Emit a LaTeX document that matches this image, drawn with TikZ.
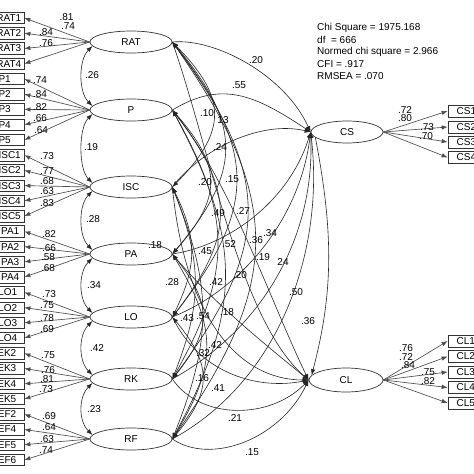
\documentclass[tikz,border=0pt]{standalone}
\usepackage{fontspec}
\setmainfont{Liberation Sans}
\usetikzlibrary{shapes.geometric,arrows.meta}
\begin{document}
\begin{tikzpicture}[x=1pt,y=-1pt,
  lat/.style={draw=black!80, line width=0.7pt, ellipse, minimum width=82pt, minimum height=22pt, inner sep=0pt, font=\fontsize{10}{12}\selectfont},
  ind/.style={draw=black!80, line width=0.7pt, rectangle, minimum width=36pt, minimum height=11.5pt, inner sep=0pt},
  itx/.style={font=\fontsize{10}{11}\selectfont, inner sep=0pt},
  ld/.style={-{Latex[length=6pt,width=4.5pt]}, draw=black!70, line width=0.65pt},
  cv/.style={{Latex[length=6pt,width=4.5pt]}-{Latex[length=6pt,width=4.5pt]}, draw=black!85, line width=0.6pt},
  pth/.style={-{Latex[length=6pt,width=4.5pt]}, draw=black!85, line width=0.6pt},
  lab/.style={font=\fontsize{10}{11}\selectfont, inner sep=0pt},
  fit/.style={font=\fontsize{10}{12}\selectfont, inner sep=0pt, anchor=west},
]
\useasboundingbox (0,0) rectangle (474,474);
\clip (0,0) rectangle (474,474);
\fill[white] (0,0) rectangle (474,474);

% latent variables
\node[lat] (RAT) at (131,42) {RAT};
\node[lat] (P) at (131,110) {P};
\node[lat] (ISC) at (131,187) {ISC};
\node[lat] (PA) at (131,254) {PA};
\node[lat] (LO) at (131,317) {LO};
\node[lat] (RK) at (131,379) {RK};
\node[lat] (RF) at (131,439) {RF};
\node[lat, minimum width=72pt] (CS) at (347,132) {CS};
\node[lat, minimum width=74pt, minimum height=24pt] (CL) at (346,380) {CL};

% left indicators
\foreach \n/\t/\y/\xe/\f in {
  RAT1/RAT1/18.0/21.5/RAT, RAT2/RAT2/33.2/21.5/RAT, RAT3/RAT3/48.5/21.5/RAT, RAT4/RAT4/63.7/21.5/RAT,
  P1/P1/79.0/11/P, P2/P2/94.2/11/P, P3/P3/109.4/11/P, P4/P4/124.7/11/P, P5/P5/139.9/11/P,
  ISC1/ISC1/155.2/21/ISC, ISC2/ISC2/170.4/21/ISC, ISC3/ISC3/185.6/21/ISC, ISC4/ISC4/200.9/21/ISC, ISC5/ISC5/216.1/21/ISC,
  PA1/PA1/231.4/19.5/PA, PA2/PA2/246.6/19.5/PA, PA3/PA3/261.8/19.5/PA, PA4/PA4/277.1/19.5/PA,
  LO1/LO1/292.3/17.5/LO, LO2/LO2/307.6/17.5/LO, LO3/LO3/322.8/17.5/LO, LO4/LO4/338.0/17.5/LO,
  RK2/REK2/353.3/16.5/RK, RK3/REK3/368.5/16.5/RK, RK4/REK4/383.8/16.5/RK, RK5/REK5/399.0/16.5/RK,
  RF2/REF2/414.2/16.5/RF, RF4/REF4/429.5/16.5/RF, RF5/REF5/444.7/16.5/RF, RF6/REF6/460.0/16.5/RF}
{
  \node[ind] (\n) at (6,\y) {};
  \node[itx, anchor=east] (t\n) at (\xe,\y) {\t};
  \draw[ld] (\f.west) -- (\n.east);
}

% right indicators
\foreach \n/\y/\f in {CS1/111/CS, CS2/127/CS, CS3/142/CS, CS4/157.5/CS,
  CL1/341/CL, CL2/356.5/CL, CL3/372/CL, CL4/387.5/CL, CL5/403/CL}
{
  \node[ind, minimum height=12pt] (\n) at (466,\y) {};
  \node[itx, anchor=west] (t\n) at (456.5,\y) {\n};
  \draw[ld] (\f.east) -- (\n.west);
}

% loading labels
\foreach \x/\y/\v [count=\i] in {
  66.5/17/.81, 68/26/.74, 46/32/.84, 46/43/.76,
  40/80/.74, 40/94/.84, 40/107/.82, 40/118/.66, 41/130/.64,
  47/156/.73, 47/171/.77, 47/181/.68, 47/191/.63, 47/203/.83,
  49/234/.82, 49/248/.66, 48/257/.58, 48/268/.68,
  49/294/.73, 47/305/.75, 47/318/.78, 47/329/.69,
  48/355/.75, 48/370/.76, 47/379/.81, 46/389/.73,
  49/416/.69, 49/427/.64, 47/439/.63, 46/450/.74,
  405/110/.72, 405/118/.80, 427/127/.73, 426/136/.70,
  406/348/.76, 406/357/.72, 408/365/.84, 428/372/.75, 428/381/.82}
{ \node[lab] (ll\i) at (\x,\y) {\v}; }

% adjacent correlations (left side)
\foreach \a/\b/\x/\y/\v [count=\i] in {RAT/P/92/75/.26, P/ISC/91/147/.19, ISC/PA/93/219/.28,
  PA/LO/94/285/.34, LO/RK/97/348/.42, RK/RF/94/409/.23}
{
  \draw[cv] (\a.186) .. controls +(-14,14) and +(-14,-14) .. (\b.174);
  \node[lab] (la\i) at (\x,\y) {\v};
}

% correlations (right side)
\foreach \a/\b/\c/\e in {RAT/ISC/55/56, RAT/PA/70/83, RAT/LO/85/109, RAT/RK/100/134, RAT/RF/110/157,
  P/PA/50/57, P/LO/63/82, P/RK/60/107, P/RF/70/130,
  ISC/LO/25/51, ISC/RK/30/76, ISC/RF/40/100,
  PA/RK/40/50, PA/RF/45/74, LO/RF/40/48}
{
  \draw[cv] (\a.east) .. controls +(\c,\e) and +(\c,-\e) .. (\b.east);
}

% structural paths to CS
\draw[pth] (RAT.east) .. controls +(43,-4) and +(-26,-57) .. (CS.west);
\draw[pth] (P.east) .. controls +(50,-30) and +(-56,-37) .. (CS.west);
\draw[pth] (ISC.east) .. controls +(28,-37) and +(-51,-12) .. (CS.west);
\draw[pth] (PA.east) .. controls +(58,-9) and +(-21,68) .. (CS.west);
\draw[pth] (LO.east) .. controls +(68,-27) and +(-11,88) .. (CS.west);
\draw[pth] (RK.east) .. controls +(88,-49) and +(4,108) .. (CS.west);
\draw[pth] (RF.east) .. controls +(108,-59) and +(14,118) .. (CS.west);
% CS to CL
\draw[pth] (CS.190) .. controls +(19,98) and +(21,-80) .. (CL.172);
% structural paths to CL
\draw[pth] (RAT.east) .. controls +(38,108) and +(-69,-60) .. (CL.west);
\draw[pth] (P.east) .. controls +(58,70) and +(-39,-80) .. (CL.west);
\draw[pth] (ISC.east) .. controls +(13,133) and +(-69,0) .. (CL.west);
\draw[pth] (PA.east) .. controls +(38,46) and +(-49,-40) .. (CL.west);
\draw[pth] (LO.east) .. controls +(28,58) and +(-49,10) .. (CL.west);
\draw[pth] (RK.east) .. controls +(28,41) and +(-39,40) .. (CL.west);
\draw[pth] (RF.east) .. controls +(38,26) and +(-29,60) .. (CL.west);

% labels of the right-side paths and correlations
\foreach \x/\y/\v [count=\i] in {
  256/60/.20, 239/85/.55, 207/113/.10, 223/120/13, 220/147/.24,
  205/182/.20, 232/179/.15, 218/213/.49, 243/211/.27, 270/233/.34,
  256/240/.36, 229/244/.52, 205/251/.45, 263/257/.19, 283/262/24,
  155/245/.18, 172/282/.28, 216/282/.42, 240/275/.20, 296/292/.50,
  187/318/.43, 203/316/.54, 227/312/.18, 308/321/.36, 215/345/.42,
  203/353/.32, 202/378/.16, 218/388/.41, 235/418/.21, 252/452/.15}
{ \node[lab] (lr\i) at (\x,\y) {\v}; }

% fit statistics
\node[fit] (f1) at (317,27.5) {Chi Square = 1975.168};
\node[fit] (f2) at (317,40) {df\ \ = 666};
\node[fit] (f3) at (317,52) {Normed chi square = 2.966};
\node[fit] (f4) at (317,64) {CFI = .917};
\node[fit] (f5) at (317,76) {RMSEA = .070};
\end{tikzpicture}
\end{document}
